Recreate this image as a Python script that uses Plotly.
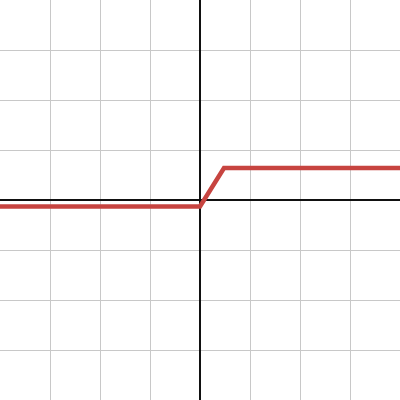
import plotly.graph_objects as go

x_vals = [-4, 0, 0.48, 4]
y_vals = [-0.13, -0.13, 0.64, 0.64]

fig = go.Figure()
fig.add_trace(go.Scatter(x=x_vals, y=y_vals, mode="lines",
                         line=dict(color="#c74440", width=4.5)))
ax = dict(range=[-4, 4], dtick=1, showgrid=True, gridcolor="#c8c8c8", gridwidth=1,
          zeroline=True, zerolinecolor="#111111", zerolinewidth=2,
          showticklabels=False, ticks="", showline=False, fixedrange=True)
fig.update_layout(width=400, height=400, margin=dict(l=0, r=0, t=0, b=0),
                  plot_bgcolor="white", paper_bgcolor="white", showlegend=False,
                  xaxis=ax, yaxis=ax)
fig.write_html("out.html", config={"displayModeBar": False},
               post_script="document.body.style.margin='0';")
